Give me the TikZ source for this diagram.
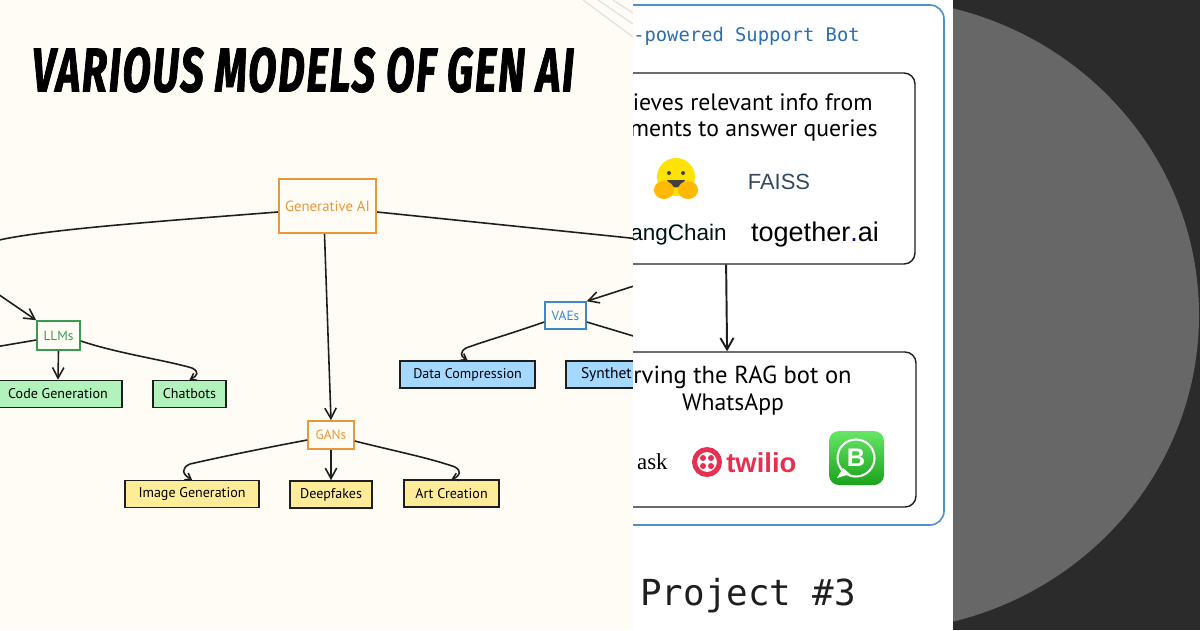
\documentclass[tikz,border=0pt]{standalone}
\usepackage{fontspec}
\usepackage{xcolor}
\usetikzlibrary{arrows.meta, positioning}
\setmainfont{PT Sans}
\newfontfamily\handfont{PT Sans}
\newfontfamily\titlefont[FakeStretch=0.66,LetterSpace=3,BoldItalicFeatures={FakeBold=1.2}]{Fira Sans}
\newfontfamily\codefont{DejaVu Sans Mono}
\newfontfamily\logofont{Liberation Sans}
\newfontfamily\serfont{Liberation Serif}
\definecolor{creambg}{HTML}{FFFCF5}
\definecolor{darkbg}{HTML}{2B2B2B}
\definecolor{discgray}{HTML}{676767}
\definecolor{inkline}{HTML}{1E1E1E}
\definecolor{orangeink}{HTML}{E8973A}
\definecolor{greenink}{HTML}{3A9A52}
\definecolor{blueink}{HTML}{3F87C8}
\definecolor{greenfill}{HTML}{B2F2BB}
\definecolor{bluefill}{HTML}{A5D8FF}
\definecolor{yellowfill}{HTML}{FFEC99}
\definecolor{framblue}{HTML}{4F90CC}
\definecolor{titleblue}{HTML}{2A6FAF}
\definecolor{twiliored}{HTML}{E5304F}
\definecolor{faissink}{HTML}{34495E}

\begin{document}
\begin{tikzpicture}[
    x=0.02cm, y=-0.02cm,
    topic/.style={rectangle, draw, fill=creambg, line width=0.9pt, inner sep=0pt, align=center, font=\handfont\fontsize{7.6}{9}\selectfont},
    leaf/.style={rectangle, draw=inkline, line width=0.9pt, inner sep=0pt, text=black, minimum height=27*0.02cm, align=center, font=\handfont\fontsize{8}{9}\selectfont},
    roundbox/.style={rectangle, draw=inkline, rounded corners=0.22cm, line width=0.8pt},
    body/.style={font=\handfont\fontsize{13.5}{15}\selectfont, text=black, inner sep=0pt},
    logo/.style={font=\logofont\fontsize{13.2}{15}\selectfont, inner sep=0pt},
    arrow/.style={-{Straight Barb[length=6pt,width=6.5pt]}, inkline, line width=0.9pt},
    hook/.style={-{Straight Barb[length=3pt,width=4.5pt]}, inkline, line width=0.9pt},
    link/.style={inkline, line width=0.9pt}
]
    \useasboundingbox (0,0) rectangle (1200,630);

    % Backgrounds
    \fill[creambg] (0,0) rectangle (633,630);
    \fill[darkbg] (953,0) rectangle (1200,630);
    \begin{scope}
        \clip (953,0) rectangle (1200,630);
        \fill[discgray] (874,315) ellipse (325 and 316);
    \end{scope}

    % Corner lines
    \foreach \xa/\yb in {583/37, 598/24, 613/13}
        \draw[color=black!12!creambg, line width=0.6pt] (\xa,0) -- (633,\yb);

    % Title
    \node[inner sep=0pt, font=\titlefont\bfseries\itshape\fontsize{35.5}{40}\selectfont] (title) at (303,70) {VARIOUS MODELS OF GEN AI};

    % Root
    \node[topic, draw=orangeink, text=orangeink, minimum width=97*0.02cm, minimum height=54*0.02cm, line width=1.3pt, font=\handfont\fontsize{8.4}{10}\selectfont] (genai) at (327.5,206) {Generative AI};

    % Families
    \node[topic, draw=greenink, text=greenink, minimum width=43*0.02cm, minimum height=29*0.02cm] (llms) at (58.5,335.5) {LLMs};
    \node[topic, draw=orangeink, text=orangeink, minimum width=46*0.02cm, minimum height=28*0.02cm] (gans) at (331,435) {GANs};
    \node[topic, draw=blueink, text=blueink, minimum width=41*0.02cm, minimum height=27*0.02cm] (vaes) at (565.5,315.5) {VAEs};

    % Leaves
    \node[leaf, fill=greenfill, minimum width=128*0.02cm] (codegen) at (58,394) {Code Generation};
    \node[leaf, fill=greenfill, minimum width=73*0.02cm] (chatbots) at (189.5,394) {Chatbots};
    \node[leaf, fill=bluefill, minimum width=135*0.02cm] (datacomp) at (467.5,374.5) {Data Compression};
    \node[leaf, fill=bluefill, minimum width=135*0.02cm, text width=105*0.02cm, align=left, font=\handfont\fontsize{8.8}{9}\selectfont] (synth) at (633.5,374.5) {Synthet};
    \node[leaf, fill=yellowfill, minimum width=134*0.02cm] (imagegen) at (192,494) {Image Generation};
    \node[leaf, fill=yellowfill, minimum width=82*0.02cm] (deepfakes) at (331,494.5) {Deepfakes};
    \node[leaf, fill=yellowfill, minimum width=95*0.02cm] (artcreate) at (451.5,493.5) {Art Creation};

    % Free ends
    \coordinate (offleft) at (-5,241);
    \coordinate (offright) at (640,239);
    \coordinate (offllmin) at (-5,292);
    \coordinate (offllmout) at (-5,347);
    \coordinate (offvaein) at (640,284);
    \coordinate (offvaeout) at (640,338);

    % Arrows
    \draw[link] (genai.west |- 0,212) .. controls (150,222) and (40,230) .. (offleft);
    \draw[link] (genai.east |- 0,212) -- (offright);
    \draw[arrow] ([xshift=-0.06cm]genai.south) -- (gans.north);
    \draw[arrow] (offllmin) -- (llms.north west);
    \draw[link] (llms.west |- 0,340) -- (offllmout);
    \draw[arrow] (llms.south) -- (codegen.north);
    \draw[hook] (llms.east |- 0,341) .. controls (120,354) and (165,360) .. (192,368) .. controls (200,372) and (197,376) .. (chatbots.north);
    \draw[arrow] (offvaein) -- (vaes.north east);
    \draw[link] (vaes.east |- 0,322) -- (offvaeout);
    \draw[hook] (vaes.west |- 0,322) .. controls (510,334) and (485,341) .. (466,348) .. controls (460,352) and (460,356) .. (datacomp.north);
    \draw[hook] (gans.west |- 0,440) .. controls (270,447) and (225,456) .. (190,464) .. controls (181,468) and (182,474) .. (imagegen.north);
    \draw[arrow] (gans.south) -- (deepfakes.north);
    \draw[hook] (gans.east |- 0,441) .. controls (390,450) and (430,458) .. (455,467) .. controls (462,471) and (460,476) .. (artcreate.north);

    % Right panel
    \fill[white] (633,0) rectangle (953,630);
    \begin{scope}
        \clip (633,0) rectangle (953,630);
        \draw[framblue, line width=0.9pt, rounded corners=0.28cm] (400,5) rectangle (944,525);
        \node[roundbox, minimum width=380*0.02cm, minimum height=191*0.02cm] (retrieve) at (725,168.5) {};
        \node[roundbox, minimum width=376*0.02cm, minimum height=155*0.02cm] (serve) at (728,429.5) {};
        \draw[arrow, line width=1.1pt, -{Straight Barb[length=6.5pt,width=7.5pt]}] (retrieve) -- (serve);

        \node[font=\codefont\fontsize{10.7}{13}\selectfont, text=titleblue, inner sep=0pt, anchor=east] (bottitle) at (860,36) {-powered Support Bot};
        \node[body, anchor=east] (lineone) at (873,102) {ieves relevant info from};
        \node[body, anchor=east] (linetwo) at (878,130) {ments to answer queries};
        \node[body, anchor=east, font=\handfont\fontsize{14}{15}\selectfont] (linethree) at (852,377) {rving the RAG bot on};
        \node[body] (linefour) at (733,404) {WhatsApp};

        \node[logo, text=faissink, font=\logofont\fontsize{12.5}{15}\selectfont] (faiss) at (779,182) {FAISS};
        \node[logo, text=black!85!teal, anchor=east, font=\logofont\fontsize{12.8}{15}\selectfont] (langchain) at (727,235) {LangChain};
        \node[logo, text=black, font=\logofont\fontsize{15.4}{17}\selectfont] (together) at (815,234) {together\textcolor{blue!70!black}{.}ai};
        \node[font=\serfont\fontsize{13}{14}\selectfont, inner sep=0pt, anchor=east] (flask) at (668,462) {ask};
        \node[font=\logofont\bfseries\fontsize{15.6}{17}\selectfont, text=twiliored, inner sep=0pt, anchor=west] (twilio) at (726,463) {twilio};

        % Hugging face
        \fill[yellow!85!orange] (676,177) circle (19);
        \fill[black!75] (669,173) circle (2) (683,173) circle (2);
        \fill[black!75] (667,180) .. controls (670,190) and (682,190) .. (685,180) -- cycle;
        \fill[orange!55!yellow] (664,190) ellipse (10 and 9) (688,190) ellipse (10 and 9);

        % Twilio mark
        \draw[twiliored, line width=2.8pt] (707,462) circle (12.5);
        \foreach \dx/\dy in {-4/-4, 4/-4, -4/4, 4/4}
            \fill[twiliored] (707+\dx,462+\dy) circle (3);

        % WhatsApp mark
        \shade[top color=green!55!white!90!black, bottom color=green!60!black!90!white, rounded corners=0.2cm] (829,431) rectangle (884,485);
        \draw[white, line width=1.2pt] (856,458) circle (18.5);
        \fill[white] (843,468) -- (837,478) -- (850,474) -- cycle;
        \node[font=\logofont\bfseries\fontsize{14.5}{15}\selectfont, text=white, inner sep=0pt] (bmark) at (856,458) {B};
    \end{scope}

    % Footer
    \node[font=\codefont\fontsize{20.4}{24}\selectfont, text=inkline, inner sep=0pt, anchor=west] (project) at (640,596) {Project \#3};
\end{tikzpicture}
\end{document}
